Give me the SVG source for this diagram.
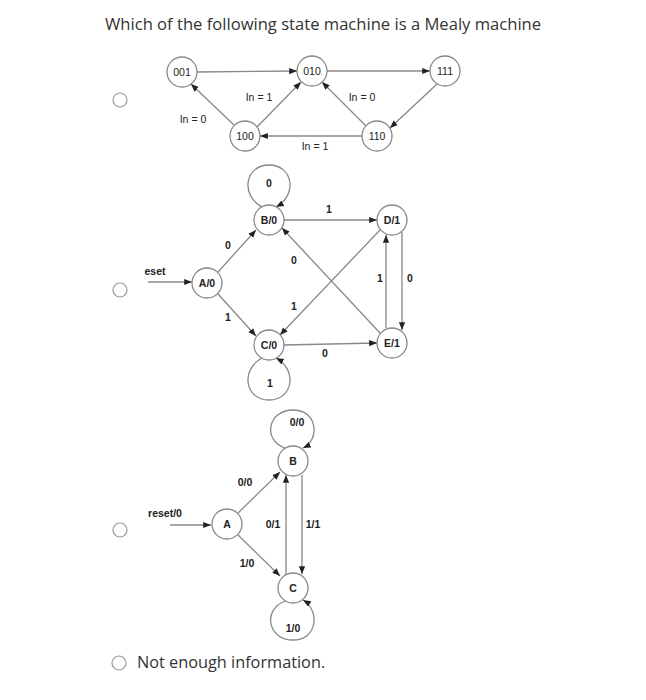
<svg xmlns="http://www.w3.org/2000/svg" width="646" height="700" viewBox="0 0 646 700">
<style>
.n{fill:#fff;stroke:#888;stroke-width:1.3}
.t{font-family:"Liberation Sans",Arial,sans-serif;font-size:10.5px;fill:#222;text-anchor:middle}
.b{font-weight:bold}
.e{fill:none;stroke:#888;stroke-width:1.3}
.r{fill:#fff;stroke:#999;stroke-width:1.2}
.q{font-family:"Open Sans","Liberation Sans",sans-serif;font-size:16.6px;fill:#333}
</style>
<defs><marker id="a" viewBox="0 0 10 10" refX="10" refY="5" markerWidth="6" markerHeight="6" orient="auto"><path d="M0,1L10,5L0,9z" fill="#222"/></marker></defs>
<rect width="646" height="700" fill="#fff"/>
<text class="q" x="105" y="30">Which of the following state machine is a Mealy machine</text>
<circle class="r" cx="120" cy="100" r="7"/><circle class="r" cx="120" cy="290" r="7"/><circle class="r" cx="120" cy="530" r="7"/><circle class="r" cx="119" cy="663" r="7"/>
<text class="q" x="137" y="668" style="font-size:16.3px">Not enough information.</text>
<g id="connectors" marker-end="url(#a)">
<line class="e" x1="197" y1="72" x2="297" y2="71"/>
<line class="e" x1="327" y1="71" x2="430" y2="71"/>
<line class="e" x1="437" y1="84" x2="390" y2="128"/>
<line class="e" x1="362" y1="136" x2="260" y2="136"/>
<line class="e" x1="234" y1="125" x2="191" y2="84"/>
<line class="e" x1="257" y1="127" x2="301" y2="82"/>
<line class="e" x1="366" y1="126" x2="322" y2="82"/>
<line class="e" x1="148" y1="282" x2="192" y2="282"/>
<line class="e" x1="218" y1="272" x2="256" y2="230"/>
<line class="e" x1="218" y1="294" x2="256" y2="336"/>
<line class="e" x1="284" y1="220" x2="377" y2="220"/>
<line class="e" x1="284" y1="345" x2="377" y2="343"/>
<line class="e" x1="380" y1="230" x2="280" y2="335"/>
<line class="e" x1="380" y1="333" x2="282" y2="228"/>
<line class="e" x1="386" y1="328" x2="386" y2="235"/>
<line class="e" x1="402" y1="232" x2="402" y2="330"/>
<path class="e" d="M262,207C240,195,245,165,269,165C293,165,298,195,276,207"/>
<path class="e" d="M262,358C240,370,245,400,269,400C293,400,298,370,276,358"/>
<line class="e" x1="170" y1="525" x2="211" y2="525"/>
<line class="e" x1="238" y1="513" x2="280" y2="472"/>
<line class="e" x1="238" y1="535" x2="280" y2="576"/>
<line class="e" x1="286" y1="576" x2="286" y2="475"/>
<line class="e" x1="302" y1="475" x2="302" y2="574"/>
<path class="e" d="M285,448C262,440,268,410,293,410C318,410,320,440,303,448"/>
<path class="e" d="M285,601C262,610,268,640,293,640C318,640,320,610,303,600"/>
</g>
<g class="t">
<text x="259" y="101">In = 1</text><text x="362" y="101">In = 0</text><text x="193" y="123">In = 0</text><text x="315" y="150">In = 1</text>
<g class="b">
<text x="269" y="187">0</text><text x="329" y="213">1</text><text x="228" y="249">0</text><text x="294" y="264">0</text>
<text x="228" y="321">1</text><text x="294" y="310">1</text><text x="380" y="282">1</text><text x="410" y="282">0</text>
<text x="325" y="357">0</text><text x="270" y="387">1</text><text x="155" y="275">eset</text>
<text x="297" y="426">0/0</text><text x="245" y="486">0/0</text><text x="165" y="517">reset/0</text>
<text x="273" y="528">0/1</text><text x="313" y="528">1/1</text><text x="247" y="567">1/0</text><text x="293" y="632">1/0</text>
</g></g>
<g id="s001"><circle class="n" cx="182" cy="72" r="15"/><text class="t" x="182" y="76">001</text></g>
<g id="s010"><circle class="n" cx="312" cy="71" r="15"/><text class="t" x="312" y="75">010</text></g>
<g id="s111"><circle class="n" cx="445" cy="71" r="15"/><text class="t" x="445" y="75">111</text></g>
<g id="s100"><circle class="n" cx="245" cy="136" r="15"/><text class="t" x="245" y="140">100</text></g>
<g id="s110"><circle class="n" cx="377" cy="136" r="15"/><text class="t" x="377" y="140">110</text></g>
<g id="A0"><circle class="n" cx="207" cy="283" r="15"/><text class="t b" x="207" y="287">A/0</text></g>
<g id="B0"><circle class="n" cx="269" cy="220" r="15"/><text class="t b" x="269" y="224">B/0</text></g>
<g id="C0"><circle class="n" cx="269" cy="345" r="15"/><text class="t b" x="269" y="349">C/0</text></g>
<g id="D1"><circle class="n" cx="392" cy="220" r="15"/><text class="t b" x="392" y="224">D/1</text></g>
<g id="E1"><circle class="n" cx="392" cy="343" r="15"/><text class="t b" x="392" y="347">E/1</text></g>
<g id="A"><circle class="n" cx="227" cy="524" r="15"/><text class="t b" x="227" y="528">A</text></g>
<g id="B"><circle class="n" cx="293" cy="461" r="15"/><text class="t b" x="293" y="465">B</text></g>
<g id="C"><circle class="n" cx="293" cy="588" r="15"/><text class="t b" x="293" y="592">C</text></g>
</svg>
